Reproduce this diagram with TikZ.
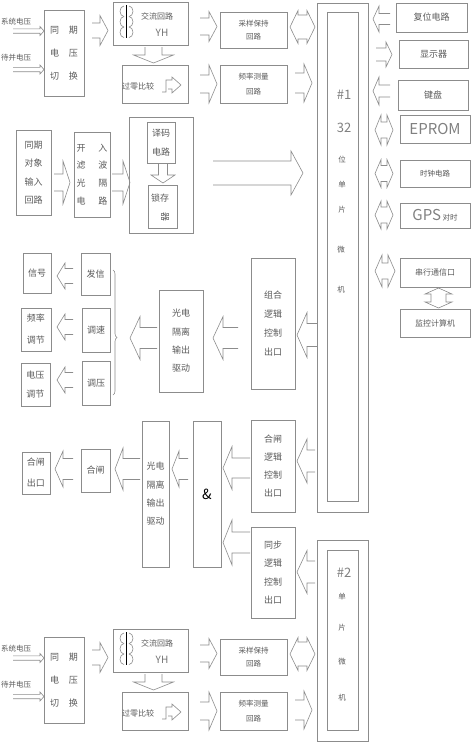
\documentclass[tikz,border=0pt]{standalone}
\usepackage{fontspec}
\setmainfont{Noto Sans CJK SC}
\usetikzlibrary{decorations.pathreplacing}

\definecolor{lgray}{gray}{0.55}
\definecolor{tgray}{gray}{0.35}
\newcommand\fsz[2]{\fontsize{#1}{#2}\selectfont}

\tikzset{
	arr/.style={draw=lgray, line width=0.6pt, line join=miter},
	blk/.style={draw=lgray, line width=0.6pt, inner sep=0pt, text=tgray, align=center, font=\fsz{9}{11}},
	lbl/.style={inner sep=0pt, text=tgray, align=center},
	big/.style={inner sep=0pt, text=black!50, font=\fsz{13}{13}},
	% hollow arrow, open tail: length/shaft/head/head length
	pics/fat/.style args={#1/#2/#3/#4}{code={
		\draw[arr] (0,-#2) -- ({#1-#4},-#2) -- ({#1-#4},-#3) -- (#1,0) -- ({#1-#4},#3) -- ({#1-#4},#2) -- (0,#2);
	}},
	pics/dfat/.style args={#1/#2/#3/#4}{code={
		\draw[arr] (0,0) -- (#4,-#3) -- (#4,-#2) -- ({#1-#4},-#2) -- ({#1-#4},-#3) -- (#1,0) -- ({#1-#4},#3) -- ({#1-#4},#2) -- (#4,#2) -- (#4,#3) -- cycle;
	}}
}

\begin{document}
\begin{tikzpicture}[x=1pt, y=-1pt]
	\useasboundingbox (0,0) rectangle (474,745);

	% voltage input sections (#1 and #2)
	\foreach \dy/\k in {0/1,627/2}{
		\node[lbl, anchor=west, font=\fsz{7.5}{9}] (sv\k) at (1,{22+\dy}) {系统电压};
		\node[lbl, anchor=west, font=\fsz{7.5}{9}] (pv\k) at (1,{58+\dy}) {待并电压};
		\pic at (13,{31+\dy}) {fat=31/2.2/4.5/4};
		\pic at (13,{69.5+\dy}) {fat=31/2.2/4.5/4};
		\node[blk, minimum width=40, minimum height=86, font=\fsz{9}{23}] (sync\k) at (64,{53+\dy})
			{同\hspace{10pt}期\\电\hspace{10pt}压\\切\hspace{10pt}换};
		\pic at (92,{30.5+\dy}) {fat=16/7.5/15/8};
		\node[blk, minimum width=75, minimum height=43] (ac\k) at (150.5,{23.5+\dy}) {};
		\node[lbl, font=\fsz{8}{10}] (act\k) at (157,{16+\dy}) {交流回路};
		\node[lbl, text=black!55, font=\fsz{10}{10}] (yh\k) at (162,{33+\dy}) {YH};
		\foreach \i in {0,1,2}{
			\draw[arr] (124,{6+10.5*\i+\dy}) arc[start angle=270, end angle=90, x radius=4, y radius=5.25];
			\draw[arr] (129,{6+10.5*\i+\dy}) arc[start angle=270, end angle=450, x radius=4, y radius=5.25];
		}
		\draw[line width=1.8pt] (126.5,{5+\dy}) -- (126.5,{38+\dy});
		\pic[rotate=-90] at (153.5,{47+\dy}) {fat=16/8.5/20/8};
		\node[blk, minimum width=66, minimum height=38] (zc\k) at (155,{84+\dy}) {};
		\node[lbl, font=\fsz{8}{10}] (zct\k) at (138,{86+\dy}) {过零比较};
		\draw[arr] (162,{92+\dy}) -- (166,{92+\dy}) -- (166,{80+\dy}) -- (172,{80+\dy}) -- (172,{77+\dy})
			-- (181,{85+\dy}) -- (172,{93+\dy}) -- (172,{89+\dy}) -- (168,{89+\dy});
		\pic at (200,{26.5+\dy}) {fat=17/8.5/15/8};
		\pic at (200,{84+\dy}) {fat=17/9/19/8};
		\node[blk, minimum width=67, minimum height=36, font=\fsz{7.5}{13}] (sh\k) at (253.5,{30+\dy}) {采样保持\\回路};
		\node[blk, minimum width=67, minimum height=38, font=\fsz{7.5}{15}] (fm\k) at (253.5,{84+\dy}) {频率测量\\回路};
		\pic at (290,{27+\dy}) {dfat=25/12/16.5/8};
		\pic at (295,{83+\dy}) {fat=17/10/19/8};
	}

	% single-chip computers
	\node[blk, minimum width=51, minimum height=509] (mcu1) at (342.5,257.5) {};
	\node[blk, minimum width=31, minimum height=489] (core1) at (342.5,256.5) {};
	\node[big] (n1) at (344,95) {\#1};
	\node[big] (n32) at (344,128) {32};
	\node[lbl, font=\fsz{7.5}{9}] (w1) at (342,160) {位};
	\node[lbl, font=\fsz{7.5}{9}] (w2) at (342,185) {单};
	\node[lbl, font=\fsz{7.5}{9}] (w3) at (342,210) {片};
	\node[lbl, font=\fsz{7.5}{9}] (w4) at (341,250) {微};
	\node[lbl, font=\fsz{7.5}{9}] (w5) at (341,290) {机};

	\node[blk, minimum width=51, minimum height=201] (mcu2) at (342.5,640.5) {};
	\node[blk, minimum width=31, minimum height=180] (core2) at (342.5,640) {};
	\node[big] (n2) at (344,573) {\#2};
	\node[lbl, font=\fsz{7.5}{9}] (v1) at (342,597) {单};
	\node[lbl, font=\fsz{7.5}{9}] (v2) at (342,628) {片};
	\node[lbl, font=\fsz{7.5}{9}] (v3) at (342,662) {微};
	\node[lbl, font=\fsz{7.5}{9}] (v4) at (342,698) {机};

	% peripherals
	\node[blk, minimum width=71, minimum height=29] (rst) at (431.5,17.5) {复位电路};
	\pic[rotate=180] at (390,19) {fat=17/5.5/13/6};
	\node[blk, minimum width=69, minimum height=28] (disp) at (433.5,54) {显示器};
	\pic at (376,54.5) {fat=16/6.5/12.5/6};
	\node[blk, minimum width=70, minimum height=30] (key) at (433,95) {键盘};
	\pic[rotate=180] at (390,91) {fat=17/6/14/6};
	\node[blk, minimum width=70, minimum height=28, text=black!50, font=\fsz{15}{15}] (rom) at (435,129) {EPROM};
	\pic at (375,130) {dfat=18/8/15/6};
	\node[blk, minimum width=70, minimum height=27, font=\fsz{7.5}{9}] (clk) at (435,173.5) {时钟电路};
	\pic at (375,173.5) {dfat=18/8/14/6};
	\node[blk, minimum width=70, minimum height=25] (gps) at (435,215.5) {{\color{black!50}\fsz{15}{15}GPS}\,{\fsz{7.5}{9}对时}};
	\pic at (375,215) {dfat=18/8/14/6};
	\node[blk, minimum width=70, minimum height=29, font=\fsz{8}{10}] (ser) at (435,272.5) {串行通信口};
	\pic at (375,271) {dfat=20/8/16/7};
	\pic[rotate=-90] at (438.5,288) {dfat=20/7.5/13.5/6};
	\node[blk, minimum width=70, minimum height=28, font=\fsz{8}{10}] (pc) at (435,323) {监控计算机};

	% object input
	\node[blk, minimum width=35, minimum height=85, font=\fsz{9}{18.3}] (inp) at (33.5,172.5) {同期\\对象\\输入\\回路};
	\pic at (54,182.5) {fat=16/8.5/21.5/7};
	\node[blk, minimum width=36, minimum height=85, font=\fsz{9}{17.7}] (filt) at (92,174.5)
		{开\hspace{13pt}入\\滤\hspace{13pt}波\\光\hspace{13pt}隔\\电\hspace{13pt}路};
	\pic at (112,182.5) {fat=18/8.5/21.5/7};
	\node[blk, minimum width=64, minimum height=116] (decb) at (161,175) {};
	\node[blk, minimum width=28, minimum height=41, font=\fsz{9}{19}] (dec) at (161,142.5) {译码\\电路};
	\pic[rotate=-90] at (163,164) {fat=19/4.5/12/8};
	\node[blk, minimum width=29, minimum height=43] (lat) at (162.5,206.5) {};
	\node[lbl, font=\fsz{9}{11}] (latt) at (160,198) {锁存};
	\node[lbl, font=\fsz{9}{11}, rotate=-90] (latq) at (165,217) {器};
	\pic at (213,173) {fat=90/12/22/12};

	% output control
	\node[blk, minimum width=28, minimum height=40] (sig) at (37,273) {信号};
	\node[blk, minimum width=29, minimum height=42] (fx) at (95.5,274) {发信};
	\node[blk, minimum width=30, minimum height=43, font=\fsz{9}{22}] (frq) at (36,329.5) {频率\\调节};
	\node[blk, minimum width=28, minimum height=44] (ts) at (96,330) {调速};
	\node[blk, minimum width=29, minimum height=43, font=\fsz{9}{19}] (vol) at (35.5,384.5) {电压\\调节};
	\node[blk, minimum width=28, minimum height=44] (ty) at (96,383) {调压};
	\pic[rotate=180] at (73,276) {fat=16/7.5/13/8};
	\pic[rotate=180] at (73,327) {fat=16/7.5/13/8};
	\pic[rotate=180] at (73,380) {fat=16/7.5/13/8};
	\draw[arr, decorate, decoration={brace, amplitude=4pt, aspect=0.54}] (113,270) -- (113,395);
	\node[blk, minimum width=44, minimum height=102, font=\fsz{9}{18.3}] (oc1) at (181,341) {光电\\隔离\\输出\\驱动};
	\pic[rotate=180] at (157,338) {fat=27/10.5/21.5/10};
	\pic[rotate=180] at (238,338) {fat=25/10.5/21.5/10};
	\node[blk, minimum width=44, minimum height=131, font=\fsz{9}{19}] (comb) at (273,323.5) {组合\\逻辑\\控制\\出口};
	\pic[rotate=180] at (317,335) {fat=20/11.5/22.5/10};

	% closing output
	\node[blk, minimum width=28, minimum height=42, font=\fsz{9}{21}] (he) at (36,473) {合闸\\出口};
	\node[blk, minimum width=29, minimum height=43] (hz) at (95.5,470.5) {合闸};
	\pic[rotate=180] at (73,469) {fat=18/10.5/18/8};
	\node[blk, minimum width=27, minimum height=146, font=\fsz{9}{18.3}] (oc2) at (155.5,494) {光电\\隔离\\输出\\驱动};
	\pic[rotate=180] at (140,469) {fat=25/10.5/21/8};
	\node[blk, minimum width=28, minimum height=146, text=black, font=\fsz{14}{14}] (andg) at (207,494) {\&};
	\pic[rotate=180] at (188,469) {fat=16/10.5/18/7};
	\node[blk, minimum width=44, minimum height=92, font=\fsz{9}{18.3}] (hlg) at (273,466) {合闸\\逻辑\\控制\\出口};
	\pic[rotate=180] at (250,468) {fat=27/10/21.5/9};
	\pic[rotate=180] at (315,461) {fat=18/11/22/10};
	\node[blk, minimum width=44, minimum height=91, font=\fsz{9}{18.3}] (sb) at (273,572.5) {同步\\逻辑\\控制\\出口};
	\pic[rotate=180] at (250,542.5) {fat=27/10.5/22.5/9};
	\pic[rotate=180] at (315,572) {fat=18/11/21.5/10};
\end{tikzpicture}
\end{document}
